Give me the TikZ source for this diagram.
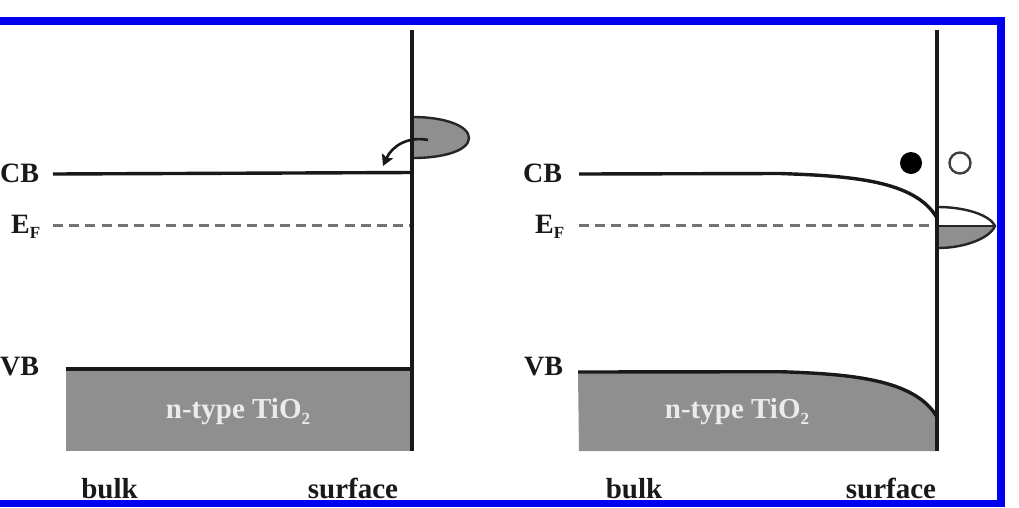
\documentclass[tikz,border=0pt]{standalone}
\usepackage{fontspec}
\setmainfont{Liberation Serif}
\usetikzlibrary{arrows.meta}
\definecolor{framecol}{RGB}{0,0,240}
\definecolor{bandgrey}{RGB}{143,143,143}
\tikzset{
  lbl/.style={font=\fontsize{28}{30}\selectfont\bfseries,inner sep=0pt,text=black!90},
  botlbl/.style={font=\fontsize{29}{31}\selectfont\bfseries,inner sep=0pt,text=black!90},
  wlbl/.style={font=\fontsize{29}{31}\selectfont\bfseries,inner sep=0pt,text=white!92!black},
  level/.style={line width=3.4pt,black!90},
  wall/.style={line width=3.8pt,black!90},
  fermi/.style={line width=3pt,black!55,dash pattern=on 10pt off 6.2pt},
  band/.style={fill=bandgrey,draw=none},
  thin/.style={line width=2.4pt,black!85}
}
\begin{document}
\begin{tikzpicture}[x=1pt,y=-1pt]
\useasboundingbox (0,0) rectangle (1019,507);
\fill[white] (0,0) rectangle (1019,507);
% left panel
\coordinate (lwt) at (412,30);
\coordinate (lwb) at (412,451);
\coordinate (lcb) at (53,174);
\coordinate (lcbe) at (412,172.5);
\coordinate (lef) at (53,225);
\coordinate (lefe) at (412,225);
\coordinate (lvb) at (66,369);
\coordinate (lvbe) at (412,369);
\fill[band] (66,369) rectangle (411,451);
\draw[thin,fill=bandgrey] (413,117) .. controls (445,117) and (469,126) .. (469,138) .. controls (469,150) and (445,158) .. (413,158);
\draw[level] (lcb) -- (lcbe);
\draw[fermi] (lef) -- (lefe);
\draw[level] (lvb) -- (lvbe);
\draw[wall] (lwt) -- (lwb);
\coordinate (arrs) at (428,140);
\coordinate (arre) at (383,166);
\draw[line width=2.6pt,black!90,-{Stealth[length=11pt,width=12pt,inset=2pt]}] (arrs) .. controls (408,136) and (392,146) .. (arre);
\node[lbl,anchor=base west] (cb1) at (0,182) {CB};
\node[lbl,anchor=base west] (ef1) at (11,233) {E\raisebox{-5pt}{\fontsize{17}{17}\selectfont F}};
\node[lbl,anchor=base west] (vb1) at (0,375) {VB};
\node[wlbl,anchor=base] (t1) at (238,418) {n-type TiO\raisebox{-6pt}{\fontsize{17}{17}\selectfont 2}};
\node[botlbl,anchor=base] (bu1) at (109.5,498.5) {bulk};
\node[botlbl,anchor=base] (su1) at (353,498.5) {surface};
% right panel
\coordinate (rwt) at (937,30);
\coordinate (rwb) at (937,451);
\coordinate (rcb) at (579,174);
\coordinate (rcbm) at (780,173.5);
\coordinate (rcbe) at (937,218);
\coordinate (ref) at (579,225);
\coordinate (refe) at (937,225);
\coordinate (rvb) at (578,372);
\coordinate (rvbm) at (780,371.7);
\coordinate (rvbe) at (937,417);
\fill[band] (rvb) -- (rvbm) .. controls (850,374) and (915,379) .. (rvbe) -- (937,451) -- (579,451) -- cycle;
\fill[band] (938,226) -- (995,226) .. controls (990,238) and (965,248) .. (938,248) -- cycle;
\draw[thin] (938,207) .. controls (965,207) and (990,215) .. (995,226) .. controls (990,238) and (965,248) .. (938,248);
\draw[thin] (938,226) -- (995,226);
\draw[level] (rcb) -- (rcbm) .. controls (850,176) and (915,180) .. (rcbe);
\draw[fermi] (ref) -- (refe);
\draw[level] (rvb) -- (rvbm) .. controls (850,374) and (915,379) .. (rvbe);
\draw[wall] (rwt) -- (rwb);
\node[circle,fill=black,minimum size=22pt,inner sep=0pt] (ed) at (911,163) {};
\node[circle,draw=black!75,line width=2.4pt,fill=white,minimum size=21pt,inner sep=0pt] (ho) at (960,163) {};
\node[lbl,anchor=base west] (cb2) at (523,182) {CB};
\node[lbl,anchor=base west] (ef2) at (535,233) {E\raisebox{-5pt}{\fontsize{17}{17}\selectfont F}};
\node[lbl,anchor=base west] (vb2) at (524,375) {VB};
\node[wlbl,anchor=base] (t2) at (737,418) {n-type TiO\raisebox{-6pt}{\fontsize{17}{17}\selectfont 2}};
\node[botlbl,anchor=base] (bu2) at (634,498.5) {bulk};
\node[botlbl,anchor=base] (su2) at (891,498.5) {surface};
% frame
\fill[framecol] (0,17) rectangle (1005,25);
\fill[framecol] (0,500) rectangle (1005,507);
\fill[framecol] (997,17) rectangle (1005,507);
\end{tikzpicture}
\end{document}
